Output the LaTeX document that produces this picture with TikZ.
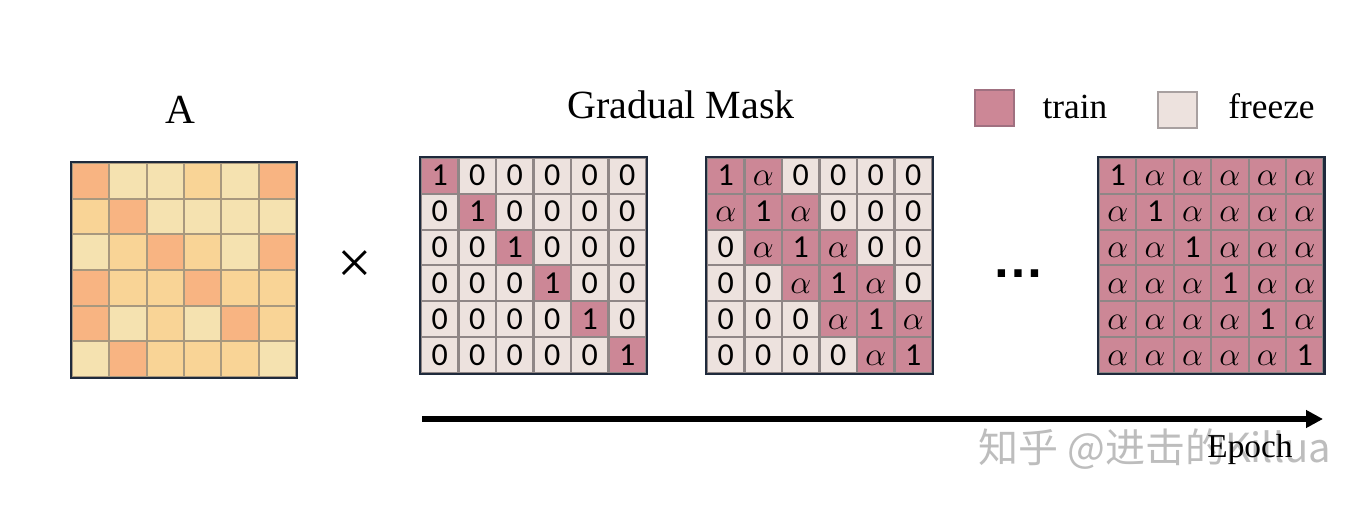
\documentclass[tikz,border=0pt]{standalone}
\usepackage{fontspec}
\setmainfont{Liberation Serif}
\newfontfamily\calfont{Carlito}
\newfontfamily\sansbold{Liberation Sans}
\newfontfamily\cjkfont{Noto Sans CJK SC}
\usetikzlibrary{arrows.meta}
\definecolor{cD}{HTML}{F8B482}
\definecolor{cM}{HTML}{F9D496}
\definecolor{cL}{HTML}{F5E2B0}
\definecolor{gridA}{HTML}{A8987E}
\definecolor{gridM}{HTML}{8F8686}
\definecolor{outer}{HTML}{1F2A3C}
\definecolor{train}{HTML}{CC8796}
\definecolor{freeze}{HTML}{EDE2DE}
\definecolor{trainedge}{HTML}{A07080}
\definecolor{freezeedge}{HTML}{A8A0A0}
\definecolor{wm}{HTML}{BDBDBD}
\tikzset{
  acell/.style={draw=gridA, line width=1.5pt, minimum width=28pt, minimum height=26.75pt, inner sep=0pt},
  mcell/.style={draw=gridM, line width=1.5pt, minimum width=28.1pt, minimum height=26.9pt, inner sep=0pt,
    font=\calfont\fontsize{24pt}{24pt}\selectfont, text height=15pt, text depth=0pt},
  border/.style={draw=outer, line width=2.2pt},
  label/.style={anchor=base, inner sep=0pt},
  legbox/.style={minimum width=29.25pt, minimum height=27pt, inner sep=0pt, line width=1.5pt},
}
\begin{document}
\begin{tikzpicture}[x=0.75pt,y=-0.75pt]
\useasboundingbox[fill=white] (0,0) rectangle (1367,507);

% titles
\node[label, font=\fontsize{31pt}{31pt}\selectfont] (titleA) at (180,123) {A};
\node[label, font=\fontsize{30pt}{30pt}\selectfont] (titleM) at (681,118) {Gradual Mask};

% legend
\node[legbox, draw=trainedge, fill=train] (legT) at (994.5,108) {};
\node[label, font=\fontsize{26.5pt}{26.5pt}\selectfont] (legTt) at (1075,118) {train};
\node[legbox, draw=freezeedge, fill=freeze] (legF) at (1177.5,110) {};
\node[label, font=\fontsize{26.5pt}{26.5pt}\selectfont] (legFt) at (1271.5,118) {freeze};

% matrix A
\foreach \row [count=\r] in {{D,L,L,M,L,D},{M,D,L,L,L,L},{L,M,D,M,L,D},{D,M,M,D,M,M},{D,L,M,L,D,M},{L,D,M,M,M,L}}{
  \foreach \v [count=\c] in \row {
    \node[acell, fill=c\v] (A-\r-\c) at ({72+(\c-0.5)*37.33},{163+(\r-0.5)*35.67}) {};
  }
}
\draw[border] (A-1-1.north west) rectangle (A-6-6.south east);

% times sign
\node[font=\fontsize{46pt}{46pt}\selectfont] (times) at (355,267) {×};

% mask 1
\foreach \r in {1,...,6}{
  \foreach \c in {1,...,6}{
    \ifnum\r=\c \def\val{1}\def\fc{train}\else \def\val{0}\def\fc{freeze}\fi
    \node[mcell, fill=\fc] (P-\r-\c) at ({421+(\c-0.5)*37.5},{158+(\r-0.5)*35.83}) {\val};
  }
}
\draw[border] (P-1-1.north west) rectangle (P-6-6.south east);

% mask 2
\foreach \r in {1,...,6}{
  \foreach \c in {1,...,6}{
    \pgfmathtruncatemacro\d{abs(\r-\c)}
    \ifnum\d=0 \def\val{1}\def\fc{train}\else
      \ifnum\d=1 \def\val{$\alpha$}\def\fc{train}\else \def\val{0}\def\fc{freeze}\fi\fi
    \node[mcell, fill=\fc] (Q-\r-\c) at ({707+(\c-0.5)*37.5},{158+(\r-0.5)*35.83}) {\val};
  }
}
\draw[border] (Q-1-1.north west) rectangle (Q-6-6.south east);

% dots
\node[label, font=\sansbold\bfseries\fontsize{39pt}{39pt}\selectfont] (dots) at (1018,277) {…};

% mask 3
\foreach \r in {1,...,6}{
  \foreach \c in {1,...,6}{
    \ifnum\r=\c \def\val{1}\else \def\val{$\alpha$}\fi
    \node[mcell, fill=train] (R-\r-\c) at ({1099+(\c-0.5)*37.4},{158+(\r-0.5)*35.83}) {\val};
  }
}
\draw[border] (R-1-1.north west) rectangle (R-6-6.south east);

% epoch arrow
\coordinate (ar0) at (422,419);
\coordinate (ar1) at (1323,419);
\draw[line width=4.5pt, -{Triangle[length=12.75pt,width=12.75pt]}] (ar0) -- (ar1);

% watermark and label
\node[label, anchor=base west, text=wm, font=\cjkfont\fontsize{30pt}{30pt}\selectfont] (wmark) at (978,462) {知乎 @进击的Killua};
\node[label, font=\fontsize{25pt}{25pt}\selectfont] (epoch) at (1250,457) {Epoch};
\end{tikzpicture}
\end{document}
